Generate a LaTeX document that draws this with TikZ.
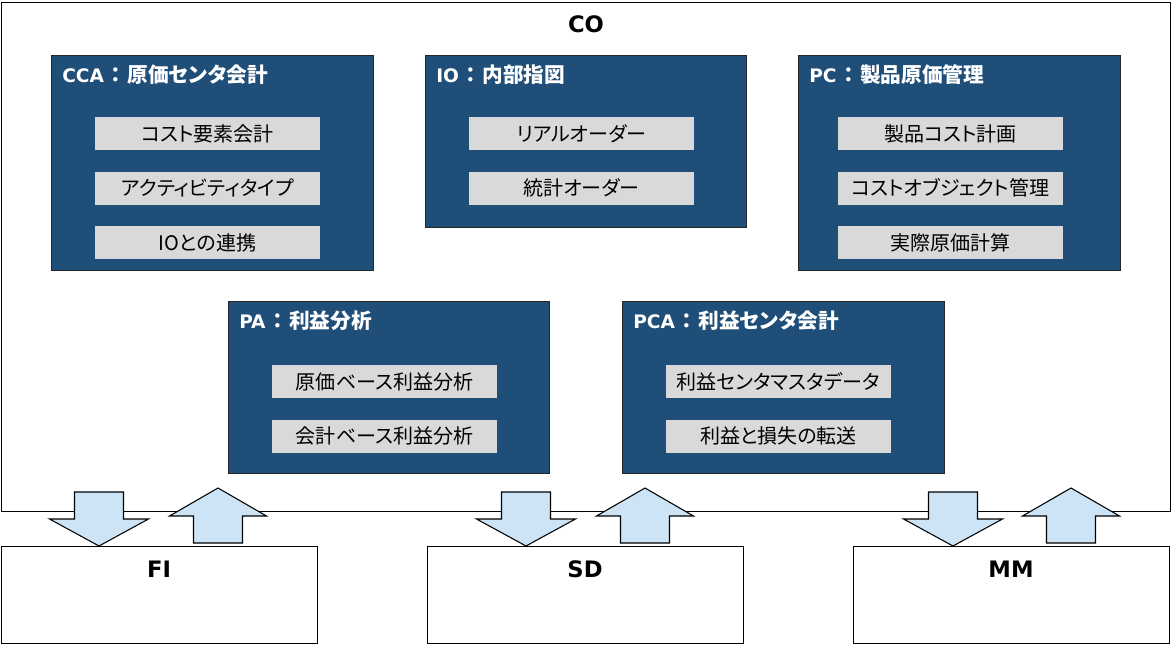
\documentclass[tikz,border=0pt]{standalone}
\usepackage{fontspec}
\usepackage{xcolor}
\setmainfont[RawFeature=+palt]{Noto Sans CJK JP}
\newfontfamily\wideLatin[Scale=0.9]{DejaVu Sans}
\newfontfamily\labelLatin{DejaVu Sans}
\usetikzlibrary{positioning}
\definecolor{modblue}{RGB}{31, 78, 121}
\definecolor{itemgray}{RGB}{217, 217, 217}
\definecolor{flowblue}{RGB}{204, 228, 245}
\newcommand{\modsep}{\hspace{5pt}：\hspace{5pt}}
\tikzstyle{frame} = [
    rectangle,
    draw=black,
    line width=0.8pt,
    anchor=north west,
    inner sep=0pt
]
\tikzstyle{module} = [
    frame,
    fill=modblue,
    draw=black!85
]
\tikzstyle{modtitle} = [
    anchor=base west,
    inner sep=0pt,
    text=white,
    font=\fontsize{15.5}{18}\selectfont\bfseries
]
\tikzstyle{item} = [
    rectangle,
    fill=itemgray,
    minimum width=168.75pt,
    minimum height=24.75pt,
    inner sep=0pt,
    text centered,
    font=\fontsize{15}{17}\selectfont
]
\tikzstyle{syslabel} = [
    inner sep=0pt,
    font=\fontsize{17}{20}\selectfont\labelLatin\bfseries
]
\tikzstyle{flow} = [
    fill=flowblue,
    draw=black,
    line width=0.8pt,
    line join=miter
]

\begin{document}
\begin{tikzpicture}[x=0.75pt, y=-0.75pt, node distance=15.75pt]
    \useasboundingbox (0,0) rectangle (1172,645);

    % CO frame
    \node[frame, minimum width=876.75pt, minimum height=381.75pt] (co) at (1,2) {};
    \node[syslabel] (coT) at (586,24) {CO};

    % modules
    \node[module, minimum width=241.5pt, minimum height=161.25pt] (cca) at (51,55) {};
    \node[modtitle] (ccaT) at (62,83) {{\wideLatin CCA}\modsep 原価センタ会計};
    \node[item] (cca1) at (207.5,133.5) {コスト要素会計};
    \node[item, below=of cca1] (cca2) {アクティビティタイプ};
    \node[item, below=of cca2] (cca3) {IOとの連携};

    \node[module, minimum width=240.75pt, minimum height=129pt] (io) at (425,55) {};
    \node[modtitle] (ioT) at (436,83) {{\wideLatin IO}\modsep 内部指図};
    \node[item] (io1) at (581.5,133.5) {リアルオーダー};
    \node[item, below=of io1] (io2) {統計オーダー};

    \node[module, minimum width=241.5pt, minimum height=161.25pt] (pc) at (798,55) {};
    \node[modtitle] (pcT) at (809,83) {{\wideLatin PC}\modsep 製品原価管理};
    \node[item] (pc1) at (950.5,133.5) {製品コスト計画};
    \node[item, below=of pc1] (pc2) {コストオブジェクト管理};
    \node[item, below=of pc2] (pc3) {実際原価計算};

    \node[module, minimum width=240.75pt, minimum height=129pt] (pa) at (228,301) {};
    \node[modtitle] (paT) at (239,329) {{\wideLatin PA}\modsep 利益分析};
    \node[item] (pa1) at (384.5,381.5) {原価ベース利益分析};
    \node[item, below=of pa1] (pa2) {会計ベース利益分析};

    \node[module, minimum width=241.5pt, minimum height=129pt] (pca) at (622,301) {};
    \node[modtitle] (pcaT) at (633,329) {{\wideLatin PCA}\modsep 利益センタ会計};
    \node[item] (pca1) at (778.5,381.5) {利益センタマスタデータ};
    \node[item, below=of pca1] (pca2) {利益と損失の転送};

    % other modules
    \node[frame, minimum width=237pt, minimum height=72.75pt] (fi) at (1,546) {};
    \node[syslabel] (fiT) at (159,569) {FI};
    \node[frame, minimum width=237pt, minimum height=72.75pt] (sd) at (427,546) {};
    \node[syslabel] (sdT) at (585,569) {SD};
    \node[frame, minimum width=237pt, minimum height=72.75pt] (mm) at (853,546) {};
    \node[syslabel] (mmT) at (1011,569) {MM};

    % data flow arrows
    \foreach \cx in {99,526,953}
        \draw[flow] (\cx-24.5,492) -- (\cx+24.5,492) -- (\cx+24.5,519) -- (\cx+49.5,519)
            -- (\cx,546) -- (\cx-49.5,519) -- (\cx-24.5,519) -- cycle;
    \foreach \cx in {218,645,1071}
        \draw[flow] (\cx-24.5,543) -- (\cx+24.5,543) -- (\cx+24.5,516) -- (\cx+48.5,516)
            -- (\cx,488) -- (\cx-48.5,516) -- (\cx-24.5,516) -- cycle;
\end{tikzpicture}
\end{document}
